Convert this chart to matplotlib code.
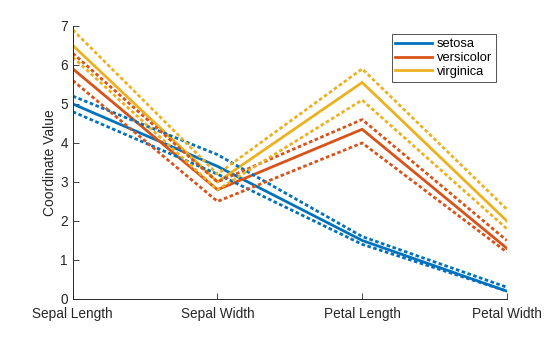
import matplotlib
matplotlib.use("Agg")
import matplotlib.pyplot as plt

plt.rcParams['font.family'] = ['Liberation Sans', 'DejaVu Sans']

features = ["Sepal Length", "Sepal Width", "Petal Length", "Petal Width"]
species = ["setosa", "versicolor", "virginica"]
colors = ["#0072BD", "#D95319", "#EDB120"]

# medians and 25% / 75% quantiles per species
median_vals = [
    [5.0, 3.4, 1.5, 0.2],
    [5.9, 2.8, 4.35, 1.3],
    [6.5, 3.0, 5.55, 2.0],
]
lower_q = [
    [4.8, 3.2, 1.4, 0.2],
    [5.6, 2.5, 4.0, 1.2],
    [6.2, 2.8, 5.1, 1.8],
]
upper_q = [
    [5.2, 3.7, 1.6, 0.3],
    [6.3, 3.0, 4.6, 1.5],
    [6.9, 3.2, 5.9, 2.3],
]

x = list(range(1, len(features) + 1))

fig = plt.figure(figsize=(5.6, 3.37), dpi=100)
ax = fig.add_axes([0.13, 0.113, 0.775, 0.81])

lw = 2.0
for name, c, m in zip(species, colors, median_vals):
    ax.plot(x, m, color=c, lw=lw, label=name, solid_joinstyle='miter')
for c, lo, hi in zip(colors, lower_q, upper_q):
    ax.plot(x, lo, color=c, lw=lw, dashes=(1.3, 0.9))
    ax.plot(x, hi, color=c, lw=lw, dashes=(1.3, 0.9))

ax.set_xlim(1, 4)
ax.set_ylim(0, 7)
ax.set_xticks(x)
ax.set_xticklabels(features)
ax.set_yticks(range(0, 8))
ax.set_ylabel("Coordinate Value", fontsize=10, color="#262626", labelpad=2.5)
ax.tick_params(direction='in', length=4, labelsize=9.8, colors="#262626",
               width=0.6)
ax.tick_params(axis='x', pad=6)
for s in ("top", "right"):
    ax.spines[s].set_visible(False)
for s in ("left", "bottom"):
    ax.spines[s].set_linewidth(0.7)
    ax.spines[s].set_color("#262626")

leg = ax.legend(loc='upper right', bbox_to_anchor=(0.975, 0.97),
                fontsize=9.3, frameon=True, fancybox=False,
                handlelength=2.8, handletextpad=0.4, borderpad=0.3,
                labelspacing=0.15, borderaxespad=0)
leg.get_frame().set_edgecolor("#262626")
leg.get_frame().set_linewidth(0.7)

fig.savefig("out.png", dpi=100)
